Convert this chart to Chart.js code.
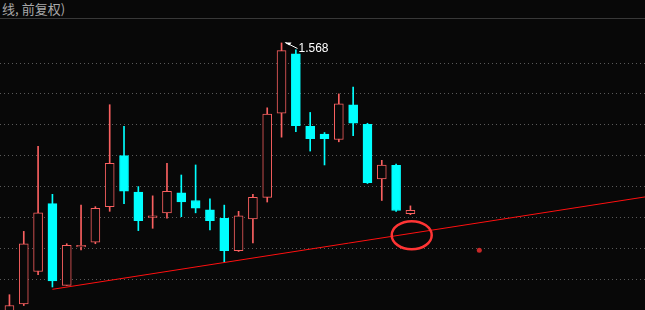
<!DOCTYPE html>
<html>
<head>
<meta charset="utf-8">
<script src="https://cdn.jsdelivr.net/npm/chart.js@4.4.1/dist/chart.umd.min.js"></script>
<style>
  body { margin: 0; background: #080808; }
  #title {
    height: 18px;
    border-bottom: 1px solid #383838;
    color: #a8a8a8;
    font: 13px "Noto Sans CJK SC", sans-serif;
    line-height: 17px;
    padding-left: 2px;
    white-space: nowrap;
    overflow: hidden;
  }
  #title span { margin-right: 3px; }
  #wrap { position: relative; width: 645px; height: 291px; }
</style>
</head>
<body>
<div id="title">线<span>,</span>前复权)</div>
<div id="wrap"><canvas id="kChart"></canvas></div>
<script>
// daily bars, index 0..28
const open  = [1.390, 1.399, 1.420, 1.464, 1.411, 1.436, 1.439, 1.462, 1.495, 1.4715, 1.455, 1.458, 1.471, 1.466, 1.460, 1.4545, 1.4335, 1.454, 1.468, 1.5225, 1.561, 1.514, 1.509, 1.5055, 1.528, 1.5153, 1.480, 1.4888, 1.4575]
const high  = [1.405, 1.446, 1.501, 1.470, 1.438, 1.463, 1.462, 1.528, 1.514, 1.475, 1.469, 1.490, 1.4825, 1.489, 1.467, 1.463, 1.459, 1.470, 1.526, 1.568, 1.5635, 1.523, 1.510, 1.535, 1.5395, 1.516, 1.492, 1.4895, 1.4625]
const low   = [1.387, 1.398, 1.418, 1.410, 1.411, 1.434, 1.438, 1.459, 1.464, 1.4465, 1.448, 1.4545, 1.4555, 1.458, 1.447, 1.426, 1.433, 1.4385, 1.465, 1.507, 1.5105, 1.498, 1.489, 1.504, 1.508, 1.477, 1.466, 1.459, 1.4568]
const close = [1.398, 1.438, 1.458, 1.414, 1.437, 1.437, 1.461, 1.490, 1.472, 1.453, 1.456, 1.472, 1.465, 1.461, 1.453, 1.4335, 1.456, 1.468, 1.522, 1.563, 1.5145, 1.506, 1.506, 1.5285, 1.516, 1.4775, 1.489, 1.4595, 1.4597]

// hand-drawn support line (bar index, price)
const trendX = [3, 44.38]
const trendY = [1.4085, 1.4683]

// circled spot and stray marker
const circleX = [28.09]
const circleY = [1.4435]
const dotX = [32.81]
const dotY = [1.4338]

// horizontal guide levels
const gridLevels = [1.555, 1.535, 1.515, 1.495, 1.475, 1.455, 1.435, 1.415]

const UP = "#fa6060"
const DOWN = "#00ffff"
const BG = "#080808"

const isUp = open.map((o, i) => close[i] >= o)

const markPlugin = {
  id: "marks",
  afterDatasetsDraw(chart) {
    const { ctx, scales } = chart
    const xs = scales.x, ys = scales.y
    ctx.save()
    // red ellipse
    ctx.strokeStyle = "#ff3434"
    ctx.lineWidth = 2.5
    for (let i = 0; i < circleX.length; i++) {
      ctx.beginPath()
      ctx.ellipse(xs.getPixelForValue(circleX[i]), ys.getPixelForValue(circleY[i]), 20, 14, 0, 0, Math.PI * 2)
      ctx.stroke()
    }
    // max-high label
    let mi = 0
    high.forEach((h, i) => { if (h > high[mi]) mi = i })
    const px = Math.round(xs.getPixelForValue(mi)) + 0.5
    const py = Math.round(ys.getPixelForValue(high[mi])) + 0.5
    ctx.strokeStyle = "#ffffff"
    ctx.fillStyle = "#ffffff"
    ctx.lineWidth = 1
    ctx.beginPath()
    ctx.moveTo(px + 3, py - 1)
    ctx.lineTo(px + 15, py + 5)
    ctx.stroke()
    ctx.beginPath()
    ctx.moveTo(px + 2, py - 1)
    ctx.lineTo(px + 9, py - 1)
    ctx.lineTo(px + 7, py + 2)
    ctx.closePath()
    ctx.fill()
    ctx.font = "12px 'Liberation Sans', sans-serif"
    ctx.textBaseline = "middle"
    ctx.fillText(high[mi].toFixed(3), px + 16, py + 5)
    ctx.restore()
  },
}

new Chart(document.getElementById("kChart"), {
  type: "bar",
  data: {
    datasets: [
      {
        label: "body",
        data: open.map((o, i) => ({ x: i, y: [o, close[i]] })),
        backgroundColor: isUp.map((u) => (u ? BG : DOWN)),
        borderColor: isUp.map((u) => (u ? UP : DOWN)),
        borderWidth: 1,
        borderSkipped: false,
        barThickness: 9,
        grouped: false,
        order: 1,
      },
      {
        label: "wick",
        data: low.map((l, i) => ({ x: i, y: [l, high[i]] })),
        backgroundColor: isUp.map((u) => (u ? UP : DOWN)),
        borderWidth: 0,
        barThickness: 1,
        grouped: false,
        order: 2,
      },
      {
        type: "line",
        label: "trend",
        data: trendX.map((x, i) => ({ x, y: trendY[i] })),
        borderColor: "#ff1010",
        borderWidth: 1,
        pointRadius: 0,
        order: 0,
      },
      {
        type: "line",
        label: "dot",
        data: dotX.map((x, i) => ({ x, y: dotY[i] })),
        showLine: false,
        pointRadius: 2.5,
        pointBackgroundColor: "#c82828",
        pointBorderWidth: 0,
        order: 0,
      },
    ],
  },
  options: {
    responsive: true,
    maintainAspectRatio: false,
    animation: false,
    events: [],
    layout: { padding: 0, autoPadding: false },
    plugins: {
      legend: { display: false },
      tooltip: { enabled: false },
    },
    scales: {
      x: {
        type: "linear",
        display: false,
        offset: false,
        min: -0.66,
        max: 44.38,
      },
      y: {
        min: 1.3951,
        max: 1.5835,
        ticks: { display: false },
        afterBuildTicks: (axis) => {
          axis.ticks = gridLevels.map((v) => ({ value: v }))
        },
        grid: {
          color: "#5a5a5a",
          drawTicks: false,
        },
        border: { display: false, dash: [1, 3] },
      },
    },
  },
  plugins: [markPlugin],
})
</script>
</body>
</html>
